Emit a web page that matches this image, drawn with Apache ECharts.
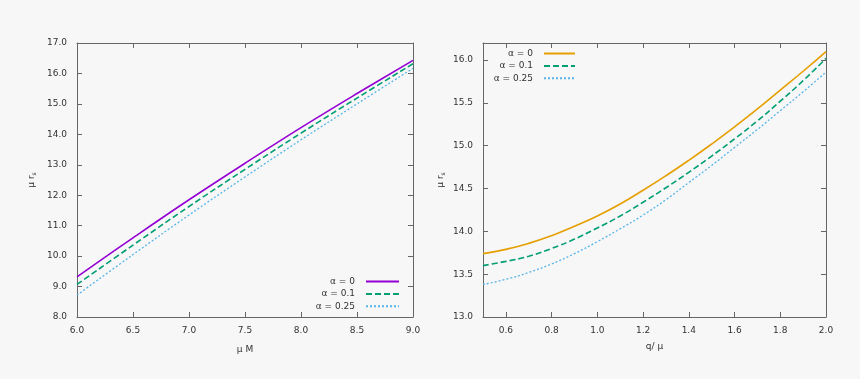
<!DOCTYPE html>
<html><head><meta charset="utf-8">
<script src="https://cdn.jsdelivr.net/npm/echarts@6/dist/echarts.min.js"></script>
<style>html,body{margin:0;padding:0;background:#f7f7f7}#c{width:860px;height:379px}</style>
</head><body><div id="c"></div>
<script>
const seriesNames = ['α = 0', 'α = 0.1', 'α = 0.25'];
// Left panel: μ r_s vs μ M
const leftX = [6.0, 6.5, 7.0, 7.5, 8.0, 8.5, 9.0];
const leftA0 = [9.32, 10.60, 11.85, 13.05, 14.22, 15.34, 16.43];
const leftA01 = [9.07, 10.36, 11.63, 12.85, 14.04, 15.19, 16.32];
const leftA025 = [8.72, 10.05, 11.35, 12.60, 13.82, 15.00, 16.17];
// Right panel: μ r_s vs q/μ
const rightX = [0.5, 0.6, 0.7, 0.8, 0.9, 1.0, 1.1, 1.2, 1.3, 1.4, 1.5, 1.6, 1.7, 1.8, 1.9, 2.0];
const rightA0 = [13.74, 13.79, 13.86, 13.95, 14.06, 14.18, 14.32, 14.48, 14.65, 14.83, 15.02, 15.22, 15.43, 15.65, 15.87, 16.10];
const rightA01 = [13.60, 13.65, 13.71, 13.80, 13.91, 14.04, 14.18, 14.34, 14.51, 14.69, 14.88, 15.08, 15.29, 15.52, 15.76, 16.02];
const rightA025 = [13.38, 13.44, 13.52, 13.62, 13.74, 13.88, 14.03, 14.19, 14.37, 14.57, 14.77, 14.98, 15.19, 15.41, 15.63, 15.86];
const rightXTicks = [0.6, 0.8, 1.0, 1.2, 1.4, 1.6, 1.8, 2.0];
const rightYTicks = [13.0, 13.5, 14.0, 14.5, 15.0, 15.5, 16.0];

const leftColors = ['#9400d3', '#009e73', '#56b4e9'];
const rightColors = ['#e69f00', '#009e73', '#56b4e9'];
const styles = [
  {type: 'solid', width: 1.6},
  {type: [6, 3], width: 1.6},
  {type: [2, 2], width: 1.3}
];
const FONT = 'DejaVu Sans';
const AX = '#666';
const zip = (xs, ys) => xs.map((x, i) => [x, ys[i]]);

const baseAxis = {
  axisLine: {show: true, lineStyle: {color: AX, width: 1}},
  axisTick: {show: true, inside: true, length: 5, lineStyle: {color: AX}},
  splitLine: {show: false},
  axisLabel: {color: '#333', fontSize: 9, fontFamily: FONT}
};
function mk(o) { return Object.assign({}, JSON.parse(JSON.stringify(baseAxis)), o); }

const fmt1 = v => v.toFixed(1);
const nameRich = {
  fontSize: 9, fontFamily: FONT, color: '#333',
  rich: {s: {fontSize: 6, fontFamily: FONT, color: '#333', verticalAlign: 'bottom', padding: [4, 0, 0, 0]}}
};

const xAxes = [
  mk({gridIndex: 0, type: 'value', min: 6, max: 9, interval: 0.5, position: 'bottom',
      axisLabel: Object.assign({}, baseAxis.axisLabel, {formatter: fmt1, margin: 9}),
      name: 'μ M', nameLocation: 'middle', nameGap: 28, nameTextStyle: {fontSize: 9, fontFamily: FONT, color: '#333'}}),
  mk({gridIndex: 0, type: 'value', min: 6, max: 9, interval: 0.5, position: 'top', axisLabel: {show: false}}),
  mk({gridIndex: 1, type: 'value', min: 0.5, max: 2.0, position: 'bottom',
      axisLabel: Object.assign({}, baseAxis.axisLabel, {formatter: fmt1, margin: 9, customValues: rightXTicks}),
      axisTick: Object.assign({}, baseAxis.axisTick, {customValues: rightXTicks}),
      name: 'q/ μ', nameLocation: 'middle', nameGap: 25, nameTextStyle: {fontSize: 9, fontFamily: FONT, color: '#333'}}),
  mk({gridIndex: 1, type: 'value', min: 0.5, max: 2.0, position: 'top', axisLabel: {show: false},
      axisTick: Object.assign({}, baseAxis.axisTick, {customValues: rightXTicks})})
];
const yAxes = [
  mk({gridIndex: 0, type: 'value', min: 8, max: 17, interval: 1, position: 'left',
      axisLabel: Object.assign({}, baseAxis.axisLabel, {formatter: fmt1, margin: 10}),
      name: 'μ r{s|s}', nameLocation: 'middle', nameGap: 40, nameRotate: 90, nameTextStyle: nameRich}),
  mk({gridIndex: 0, type: 'value', min: 8, max: 17, interval: 1, position: 'right', axisLabel: {show: false}}),
  mk({gridIndex: 1, type: 'value', min: 13, max: 16.2, position: 'left',
      axisLabel: Object.assign({}, baseAxis.axisLabel, {formatter: fmt1, margin: 10, customValues: rightYTicks}),
      axisTick: Object.assign({}, baseAxis.axisTick, {customValues: rightYTicks}),
      name: 'μ r{s|s}', nameLocation: 'middle', nameGap: 37, nameRotate: 90, nameTextStyle: nameRich}),
  mk({gridIndex: 1, type: 'value', min: 13, max: 16.2, position: 'right', axisLabel: {show: false},
      axisTick: Object.assign({}, baseAxis.axisTick, {customValues: rightYTicks})})
];

const leftData = [leftA0, leftA01, leftA025];
const rightData = [rightA0, rightA01, rightA025];
const series = [];
seriesNames.forEach((n, i) => {
  series.push({type: 'line', name: 'L' + i, xAxisIndex: 0, yAxisIndex: 0, data: zip(leftX, leftData[i]),
    smooth: 0.4, symbol: 'none', color: leftColors[i], lineStyle: Object.assign({color: leftColors[i]}, styles[i])});
});
seriesNames.forEach((n, i) => {
  series.push({type: 'line', name: 'R' + i, xAxisIndex: 2, yAxisIndex: 2, data: zip(rightX, rightData[i]),
    smooth: 0.5, symbol: 'none', color: rightColors[i], lineStyle: Object.assign({color: rightColors[i]}, styles[i])});
});

const legends = [];
seriesNames.forEach((n, i) => {
  legends.push({data: ['L' + i], right: 860 - 400, top: 277 + i * 12.4, padding: 0, align: 'right', itemWidth: 33, itemHeight: 8, itemGap: 0,
    selectedMode: false, formatter: () => n, itemStyle: {opacity: 0},
    textStyle: {fontSize: 9, fontFamily: FONT, color: '#333', padding: [0, 6, 0, 0]}});
  legends.push({data: ['R' + i], right: 860 - 576, top: 49 + i * 12.4, padding: 0, align: 'right', itemWidth: 31, itemHeight: 8, itemGap: 0,
    selectedMode: false, formatter: () => n, itemStyle: {opacity: 0},
    textStyle: {fontSize: 9, fontFamily: FONT, color: '#333', padding: [0, 6, 0, 0]}});
});

const chart = echarts.init(document.getElementById('c'), null, {renderer: 'canvas'});
chart.setOption({
  backgroundColor: '#f7f7f7',
  animation: false,
  grid: [
    {left: 77, right: 860 - 413, top: 43, bottom: 379 - 317},
    {left: 483, right: 860 - 826, top: 43, bottom: 379 - 317}
  ],
  xAxis: xAxes,
  yAxis: yAxes,
  legend: legends,
  series: series
});
</script></body></html>
